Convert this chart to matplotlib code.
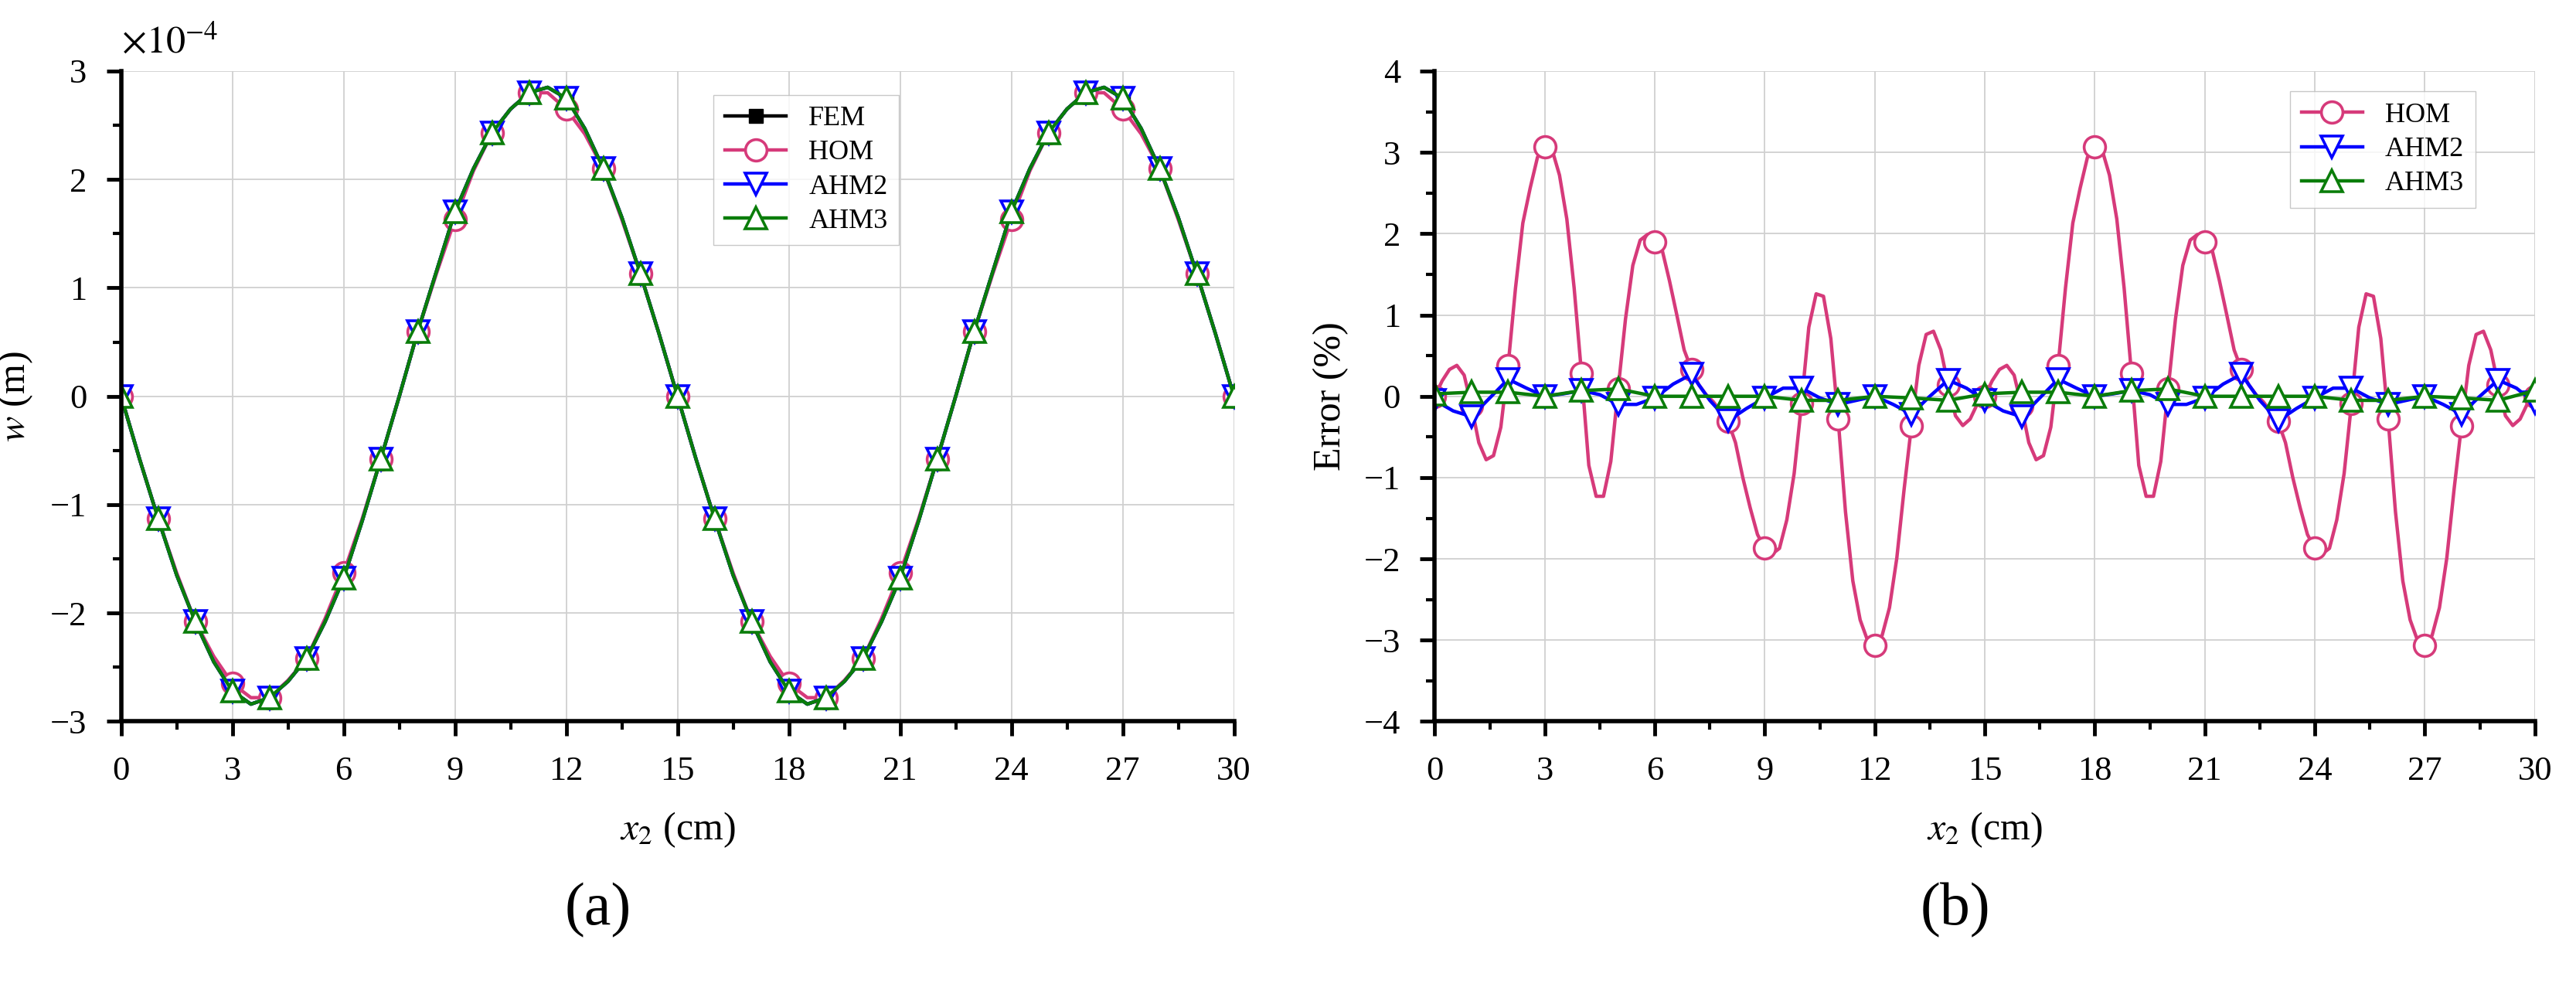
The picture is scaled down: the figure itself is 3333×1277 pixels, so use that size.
import matplotlib
matplotlib.use("Agg")
import matplotlib.pyplot as plt
from matplotlib.ticker import MultipleLocator

plt.rcParams['font.family'] = ['Liberation Serif', 'DejaVu Serif']
plt.rcParams['mathtext.fontset'] = 'stix'

# ---- panel (a) data: w (x1e-4 m) ----
x_int = list(range(0, 31))
fem_half = [0.0, -0.58, -1.13, -1.65, -2.08, -2.45, -2.72, -2.84, -2.78, -2.63, -2.42, -2.08, -1.68, -1.15,
            -0.58, 0.0, 0.60, 1.15, 1.70, 2.10, 2.43, 2.65, 2.80, 2.85, 2.75, 2.47, 2.10, 1.65, 1.13, 0.58]
x_half = [i * 0.5 for i in range(61)]
fem_line = fem_half + fem_half + [0.0]
fem_pts = [0.0, -1.13, -2.08, -2.72, -2.78, -2.42, -1.68, -0.58, 0.60, 1.70, 2.43, 2.80, 2.75, 2.10, 1.13,
           0.0, -1.13, -2.08, -2.72, -2.78, -2.42, -1.68, -0.58, 0.60, 1.70, 2.43, 2.80, 2.75, 2.10, 1.13, 0.0]
hom_pts = [0.0, -1.13, -2.08, -2.65, -2.78, -2.42, -1.63, -0.58, 0.60, 1.63, 2.43, 2.80, 2.65, 2.10, 1.13,
           0.0, -1.13, -2.08, -2.65, -2.78, -2.42, -1.63, -0.58, 0.60, 1.63, 2.43, 2.80, 2.65, 2.10, 1.13, 0.0]
hom_line_half = [0.0, -0.58, -1.13, -1.63, -2.08, -2.40, -2.65, -2.78, -2.78, -2.62, -2.42, -2.05, -1.63, -1.13,
                 -0.58, 0.0, 0.60, 1.13, 1.63, 2.08, 2.43, 2.65, 2.80, 2.80, 2.65, 2.42, 2.10, 1.63, 1.13, 0.58]
hom_line = hom_line_half + hom_line_half + [0.0]
ahm2_pts = fem_pts
ahm3_pts = fem_pts

# ---- panel (b) data: error (%) ----
x_fine = [round(i * 0.2, 1) for i in range(151)]
hom_err_period = [0.0, 0.19, 0.33, 0.38, 0.26, -0.12, -0.57, -0.78, -0.73, -0.38,
                  0.38, 1.33, 2.13, 2.56, 2.94, 3.07, 3.03, 2.72, 2.18, 1.33,
                  0.28, -0.85, -1.23, -1.23, -0.80, 0.09, 0.95, 1.61, 1.92, 1.99,
                  1.90, 1.80, 1.42, 1.00, 0.57, 0.33, 0.14, 0.02, -0.07, -0.19,
                  -0.31, -0.57, -1.00, -1.37, -1.70, -1.87, -1.94, -1.87, -1.52, -0.95,
                  -0.09, 0.85, 1.26, 1.23, 0.71, -0.28, -1.42, -2.27, -2.75, -3.00,
                  -3.06, -2.94, -2.60, -1.99, -1.14, -0.36, 0.38, 0.76, 0.80, 0.57,
                  0.14, -0.24, -0.36, -0.28, -0.09]
hom_err = hom_err_period + hom_err_period + [0.0]
hom_err_pts = hom_err[::5]
ahm2_period = [-0.05, -0.18, -0.25, -0.02, 0.21, 0.10, 0.0, 0.03, 0.07, 0.02, -0.10, -0.10, -0.02, 0.15, 0.27,
               -0.05, -0.30, -0.15, -0.02, 0.10, 0.10, -0.02, -0.10, -0.05, 0.0, -0.10, -0.22, 0.0, 0.20, 0.10]
ahm2_err = ahm2_period + ahm2_period + [-0.08]
ahm3_pts_err = [0.03, 0.05, 0.05, 0.0, 0.07, 0.09, 0.0, 0.0, 0.0, 0.0, -0.05, -0.05, 0.0, -0.02, -0.05,
                0.03, 0.05, 0.05, 0.0, 0.07, 0.09, 0.0, 0.0, 0.0, 0.0, -0.05, -0.05, 0.0, -0.02, -0.05, 0.07]

C_HOM = '#d63a7a'
C_AHM2 = '#0000ff'
C_AHM3 = '#0a7d0a'
LW = 3.2
MS = 20
MEW = 2.6

fig = plt.figure(figsize=(33.33, 12.77), dpi=100)
ax1 = fig.add_axes([0.047, 0.269, 0.432, 0.659])
ax2 = fig.add_axes([0.557, 0.269, 0.427, 0.659])

def style(ax, ylo, yhi):
    ax.set_xlim(0, 30)
    ax.set_ylim(ylo, yhi)
    ax.xaxis.set_major_locator(MultipleLocator(3))
    ax.xaxis.set_minor_locator(MultipleLocator(1.5))
    ax.yaxis.set_major_locator(MultipleLocator(1))
    ax.yaxis.set_minor_locator(MultipleLocator(0.5))
    ax.grid(True, which='major', color='#d0d0d0', lw=1.3)
    ax.set_axisbelow(True)
    for s in ['left', 'bottom']:
        ax.spines[s].set_linewidth(4)
    for s in ['top', 'right']:
        ax.spines[s].set_visible(False)
    ax.tick_params(which='major', direction='out', length=14, width=3.5, labelsize=32, pad=18)
    ax.tick_params(which='minor', direction='out', length=8, width=3)
    ax.set_xlabel(r'$x_2$ (cm)', fontsize=36, labelpad=22)

def mfmt(a):
    return dict(ms=MS, mew=MEW, mfc='white', mec=a)

# panel a
ax1.plot(x_half, fem_line, color='black', lw=LW)
ax1.plot(x_int, fem_pts, ls='none', marker='s', ms=13, color='black')
ax1.plot([], [], color='black', lw=LW, marker='s', ms=13, label='FEM')
ax1.plot(x_half, hom_line, color=C_HOM, lw=LW)
ax1.plot(x_int, hom_pts, ls='none', marker='o', **mfmt(C_HOM))
ax1.plot([], [], color=C_HOM, lw=LW, marker='o', label='HOM', **mfmt(C_HOM))
ax1.plot(x_half, fem_line, color=C_AHM2, lw=LW)
ax1.plot(x_int, ahm2_pts, ls='none', marker='v', **mfmt(C_AHM2))
ax1.plot([], [], color=C_AHM2, lw=LW, marker='v', label='AHM2', **mfmt(C_AHM2))
ax1.plot(x_half, fem_line, color=C_AHM3, lw=LW)
ax1.plot(x_int, ahm3_pts, ls='none', marker='^', **mfmt(C_AHM3))
ax1.plot([], [], color=C_AHM3, lw=LW, marker='^', label='AHM3', **mfmt(C_AHM3))
style(ax1, -3, 3)
ax1.set_yticks([-3, -2, -1, 0, 1, 2, 3])
ax1.set_yticklabels(['\u22123', '\u22122', '\u22121', '0', '1', '2', '3'])
ax1.set_ylabel(r'$w$ (m)', fontsize=36, labelpad=14)
ax1.text(0.0, 1.015, r'$\times10^{-4}$', transform=ax1.transAxes, fontsize=36, va='bottom', ha='left')
ax1.legend(loc='upper left', bbox_to_anchor=(0.52, 0.985), fontsize=26, frameon=True,
           fancybox=False, edgecolor='#bbbbbb', handlelength=2.2, borderpad=0.4, labelspacing=0.3)

# panel b
ax2.plot(x_fine, hom_err, color=C_HOM, lw=LW)
ax2.plot(x_int, hom_err_pts, ls='none', marker='o', **mfmt(C_HOM))
ax2.plot([], [], color=C_HOM, lw=LW, marker='o', label='HOM', **mfmt(C_HOM))
ax2.plot(x_half, ahm2_err, color=C_AHM2, lw=LW)
ax2.plot(x_int, ahm2_err[::2], ls='none', marker='v', **mfmt(C_AHM2))
ax2.plot([], [], color=C_AHM2, lw=LW, marker='v', label='AHM2', **mfmt(C_AHM2))
ax2.plot(x_int, ahm3_pts_err, color=C_AHM3, lw=LW, marker='^', **mfmt(C_AHM3), label='AHM3')
style(ax2, -4, 4)
ax2.set_yticks([-4, -3, -2, -1, 0, 1, 2, 3, 4])
ax2.set_yticklabels(['\u22124', '\u22123', '\u22122', '\u22121', '0', '1', '2', '3', '4'])
ax2.set_ylabel('Error (%)', fontsize=36, labelpad=14)
ax2.legend(loc='upper left', bbox_to_anchor=(0.765, 0.99), fontsize=26, frameon=True,
           fancybox=False, edgecolor='#bbbbbb', handlelength=2.2, borderpad=0.4, labelspacing=0.3)

fig.text(0.232, 0.05, '(a)', fontsize=56, ha='center', va='bottom')
fig.text(0.759, 0.05, '(b)', fontsize=56, ha='center', va='bottom')

fig.savefig('out.png', dpi=100)
